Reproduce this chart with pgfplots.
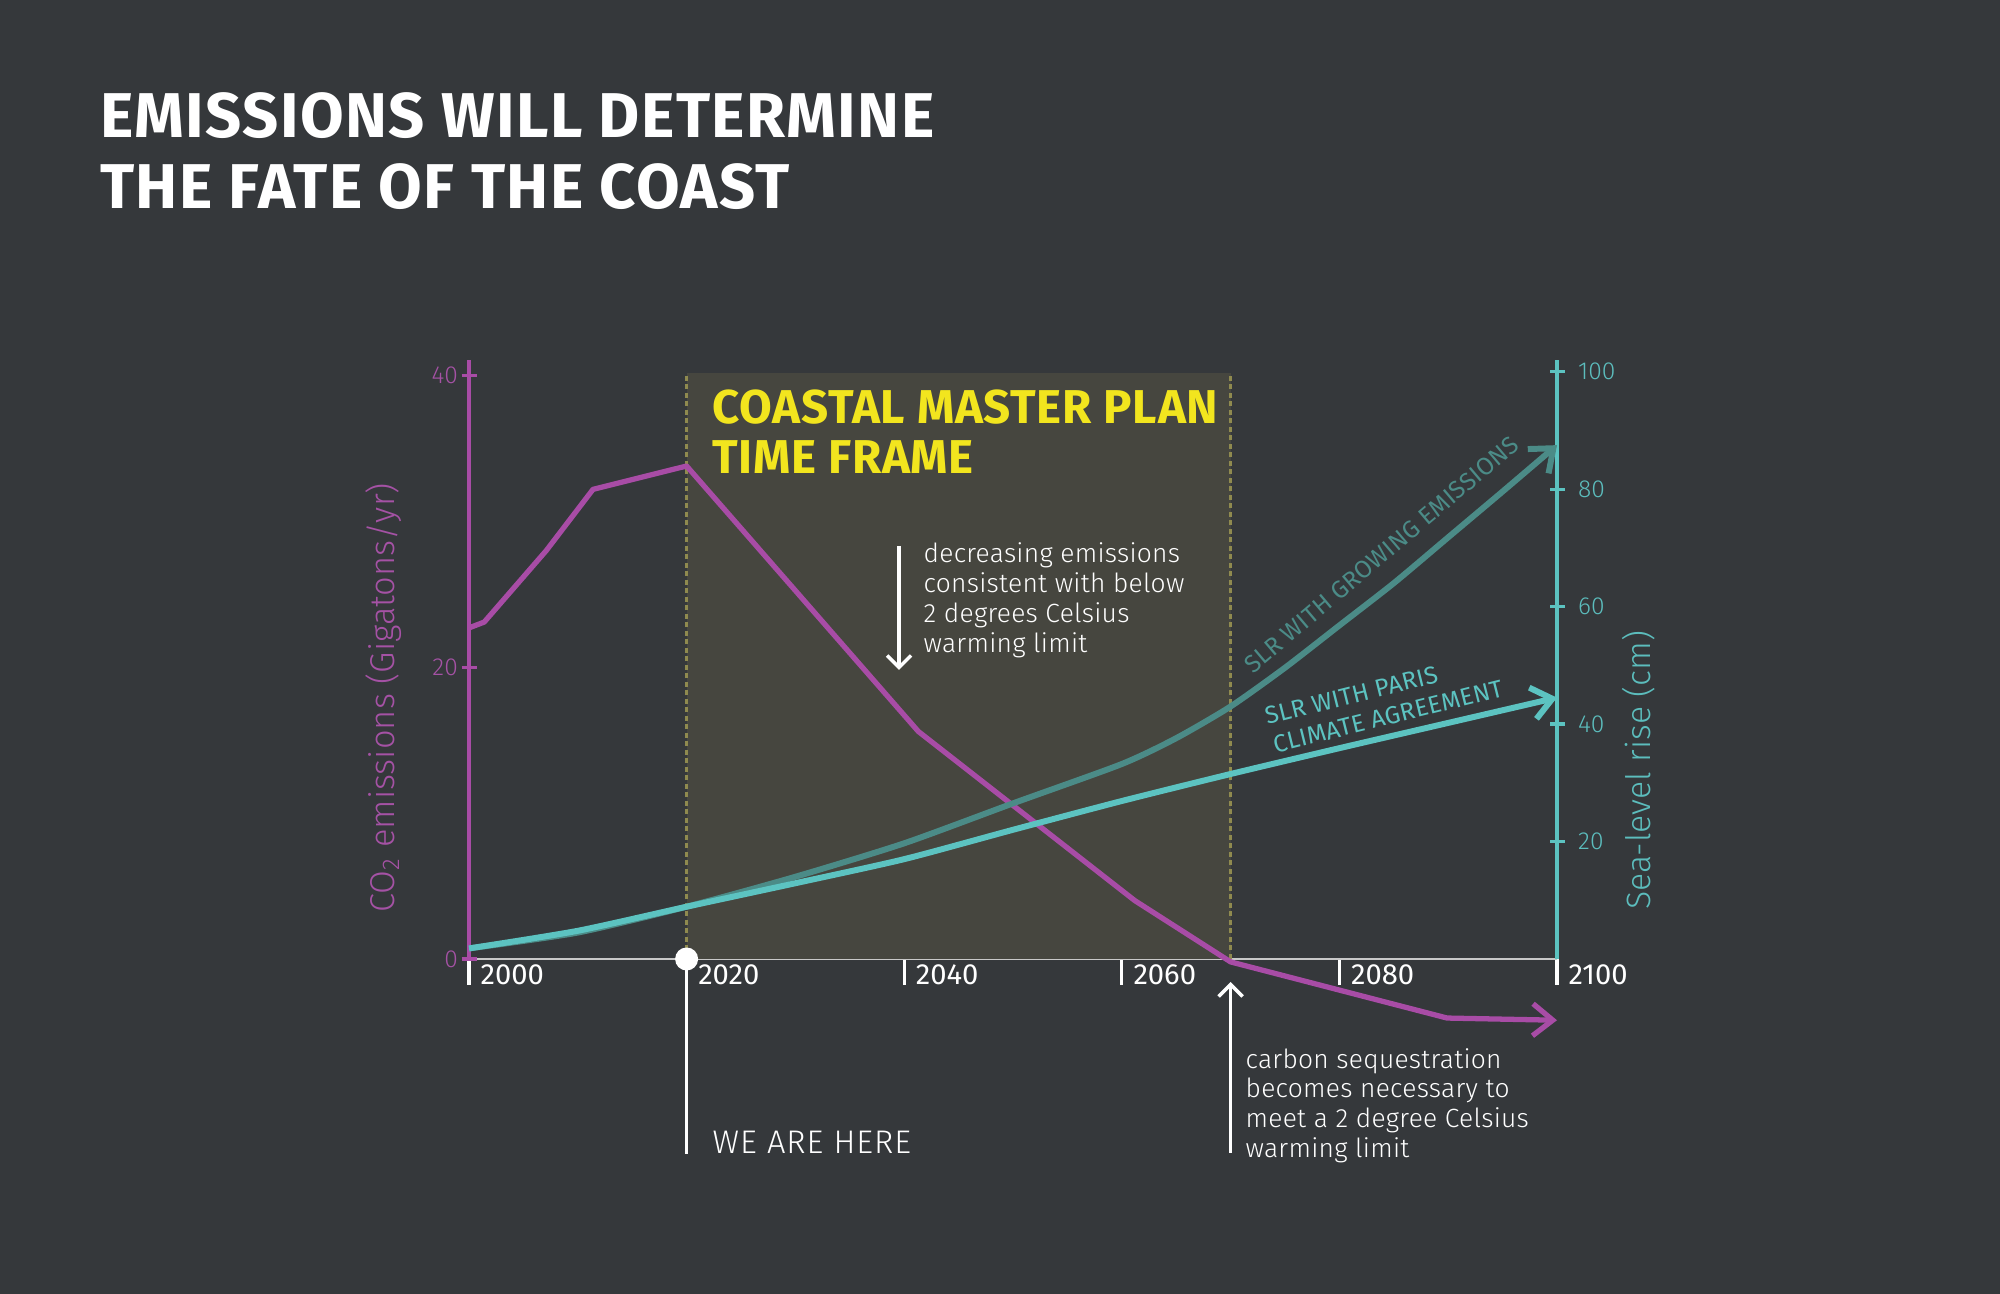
\documentclass[border=0pt]{standalone}
\usepackage{fontspec}
\setmainfont{Fira Sans}
\newfontfamily\lightfont{Fira Sans Light}
\usepackage{pgfplots}
\pgfplotsset{compat=1.18}
\usetikzlibrary{arrows.meta}
\definecolor{bg}{HTML}{35383B}
\definecolor{region}{HTML}{46463F}
\definecolor{dashcol}{HTML}{8F8A4F}
\definecolor{purp}{HTML}{A84CA6}
\definecolor{purptext}{HTML}{A552A5}
\definecolor{tealdark}{HTML}{4B8B87}
\definecolor{teallight}{HTML}{5CC3C1}
\definecolor{tealtext}{HTML}{5CBDBD}
\definecolor{yel}{HTML}{F2E51E}
\definecolor{axgray}{HTML}{C8C8C8}
\pgfplotsset{
  base/.style={
    at={(4.69cm,3.35cm)}, anchor=south west,
    scale only axis, width=10.88cm, height=5.99cm,
    xmin=2000, xmax=2100, clip=false,
    axis line style={-},
    /pgf/number format/assume math mode=true,
  }
}
\begin{document}
\begin{tikzpicture}
\fill[bg] (0,0) rectangle (20,12.94);
\node[anchor=base west, inner sep=0, text=white, font=\fontsize{18}{20}\selectfont\bfseries\addfontfeature{LetterSpace=2.2}] at (0.995,11.562) {EMISSIONS WILL DETERMINE};
\node[anchor=base west, inner sep=0, text=white, font=\fontsize{18}{20}\selectfont\bfseries\addfontfeature{LetterSpace=2.2}] at (0.995,10.85) {THE FATE OF THE COAST};

% Axis A: x axis, time-frame region, emissions
\begin{axis}[base, ymin=0, ymax=41.07,
  axis x line*=bottom, axis y line=none,
  x axis line style={axgray, line width=0.7pt},
  xtick={2000,2020,2040,2060,2080,2100},
  xticklabels={2000,2020,2040,2060,2080,2100},
  tick align=outside, major tick length=0.26cm,
  x tick style={white, line width=0.9pt},
  xticklabel style={anchor=base west, inner sep=0pt, xshift=0.11cm, text=white, font=\fontsize{8.3}{9}\selectfont},
]
\fill[region] (axis cs:2020,0) rectangle (axis cs:2070,40.16);
\draw[dashcol, line width=0.8pt, dash pattern=on 0.05cm off 0.035cm] (axis cs:2020,0) -- (axis cs:2020,40.16);
\draw[dashcol, line width=0.8pt, dash pattern=on 0.05cm off 0.035cm] (axis cs:2070,0) -- (axis cs:2070,40.16);
\addplot[purp, line width=1.5pt, line join=round, -{Straight Barb[length=0.2cm,width=0.32cm]}] coordinates {
(2000,22.7) (2001.4,23.1) (2007.1,28.0) (2011.4,32.2) (2020,33.8) (2041.3,15.6) (2061.2,4.0) (2070,-0.2) (2089.9,-4.05) (2100,-4.2)
};
\end{axis}

% Axis B: left y axis (emissions)
\begin{axis}[base, ymin=0, ymax=41.07,
  axis y line*=left, axis x line=none,
  y axis line style={purp, line width=0.9pt},
  ytick={0,20,40}, yticklabels={0,20,40},
  tick align=center, major tick length=0.15cm,
  y tick style={purp, line width=0.9pt},
  yticklabel style={anchor=east, inner sep=0pt, xshift=-0.03cm, text=purptext, font=\lightfont\fontsize{7}{8}\selectfont},
  ylabel={CO\textsubscript{2} emissions (Gigatons/yr)},
  every axis y label/.style={at={(axis description cs:-0.0689,0.436)}, anchor=base, rotate=90, text=purptext, font=\lightfont\fontsize{9.8}{11}\selectfont},
]
\end{axis}

% Axis C: right y axis (sea-level rise)
\begin{axis}[base, ymin=0, ymax=102,
  axis y line*=right, axis x line=none,
  y axis line style={teallight, line width=0.9pt},
  ytick={20,40,60,80,100}, yticklabels={20,40,60,80,100},
  tick align=center, major tick length=0.15cm,
  y tick style={teallight, line width=0.9pt},
  yticklabel style={anchor=west, inner sep=0pt, xshift=0.13cm, text=tealtext, font=\lightfont\fontsize{7}{8}\selectfont},
  ylabel={Sea-level rise (cm)},
  every axis y label/.style={at={(axis description cs:1.0855,0.315)}, anchor=base, rotate=90, text=tealtext, font=\lightfont\fontsize{9.6}{11}\selectfont},
]
\addplot[tealdark, line width=1.7pt, smooth, tension=0.4, -{Straight Barb[length=0.2cm,width=0.32cm]}] coordinates {
(2000,1.8) (2010,4.5) (2020,8.9) (2030,14) (2040,19.7) (2050,26.5) (2060,33.2) (2065,37.6) (2070,43) (2075,49.6) (2080,56.8) (2085,64) (2090,71.8) (2095,79.6) (2100,87.5)
};
\addplot[teallight, line width=1.7pt, smooth, tension=0.4, -{Straight Barb[length=0.2cm,width=0.32cm]}] coordinates {
(2000,1.8) (2010,4.8) (2020,8.9) (2030,12.9) (2040,17.0) (2050,22.0) (2060,26.9) (2070,31.5) (2080,35.9) (2090,40.2) (2100,44.5)
};
\end{axis}

% annotations
\node[anchor=base west, inner sep=0, text=yel, font=\fontsize{13.5}{15}\selectfont\bfseries\addfontfeature{LetterSpace=1.5}] at (7.117,8.705) {COASTAL MASTER PLAN};
\node[anchor=base west, inner sep=0, text=yel, font=\fontsize{13.5}{15}\selectfont\bfseries\addfontfeature{LetterSpace=1.5}] at (7.117,8.208) {TIME FRAME};

\draw[white, line width=1pt, -{Straight Barb[length=0.12cm,width=0.24cm]}] (8.99,7.48) -- (8.99,6.24);
\begin{scope}[every node/.style={anchor=base west, inner sep=0, text=white, font=\lightfont\fontsize{7.5}{8.5}\selectfont\addfontfeature{LetterSpace=1}}]
\node at (9.23,7.31) {decreasing emissions};
\node at (9.23,7.01) {consistent with below};
\node at (9.23,6.71) {2 degrees Celsius};
\node at (9.23,6.41) {warming limit};
\node at (12.45,2.257) {carbon sequestration};
\node at (12.45,1.963) {becomes necessary to};
\node at (12.45,1.663) {meet a 2 degree Celsius};
\node at (12.45,1.363) {warming limit};
\end{scope}
\draw[white, line width=1pt, -{Straight Barb[length=0.12cm,width=0.24cm]}] (12.306,1.41) -- (12.306,3.12);

\draw[white, line width=1pt] (6.866,3.35) -- (6.866,1.40);
\fill[white] (6.866,3.35) circle (0.115);
\node[anchor=base west, inner sep=0, text=white, font=\lightfont\fontsize{9.3}{11}\selectfont\addfontfeature{LetterSpace=3}] at (7.12,1.40) {WE ARE HERE};

\node[anchor=base, inner sep=0, rotate=40.3, text=tealdark, font=\fontsize{7}{8.5}\selectfont\addfontfeature{LetterSpace=1}] at (13.87,7.33) {SLR WITH GROWING EMISSIONS};
\node[anchor=base west, inner sep=0, rotate=14, text=teallight, font=\fontsize{7}{8}\selectfont\addfontfeature{LetterSpace=1.5}] at (12.667,5.69) {SLR WITH PARIS};
\node[anchor=base west, inner sep=0, rotate=14, text=teallight, font=\fontsize{7}{8}\selectfont\addfontfeature{LetterSpace=1.5}] at (12.75,5.407) {CLIMATE AGREEMENT};
\end{tikzpicture}
\end{document}
